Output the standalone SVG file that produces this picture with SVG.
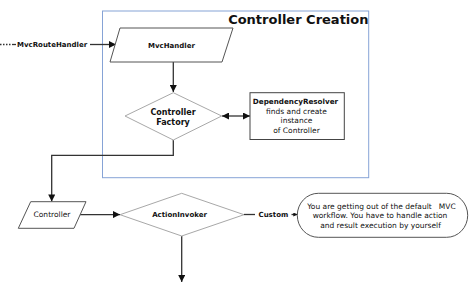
<svg xmlns="http://www.w3.org/2000/svg" width="474" height="283" viewBox="0 0 474 283">
<defs>
<marker id="arr" viewBox="0 0 10 10" refX="10" refY="5" markerWidth="8" markerHeight="7" markerUnits="userSpaceOnUse" orient="auto-start-reverse">
<path d="M0,0 L10,5 L0,10 z" fill="#111"/>
</marker>
<marker id="arrs" viewBox="0 0 10 10" refX="10" refY="5" markerWidth="4" markerHeight="4" markerUnits="userSpaceOnUse" orient="auto">
<path d="M0,0 L10,5 L0,10 z" fill="#111"/>
</marker>
<style>
text{font-family:"DejaVu Sans","Verdana",sans-serif;fill:#111}
.b{font-weight:bold;font-size:7px}
.r{font-size:7.5px}
.c{text-anchor:middle}
.ln{fill:none;stroke:#333;stroke-width:1.3}
.dia{fill:#fff;stroke:#a8a8a8;stroke-width:1}
.par{fill:#fff;stroke:#555;stroke-width:1}
</style>
</defs>
<rect width="474" height="283" fill="#fff"/>

<g id="container">
<rect x="102.5" y="11" width="266.2" height="166.7" fill="none" stroke="#86a3d6" stroke-width="1"/>
<text x="368.5" y="24.3" style="font-weight:bold;font-size:13px;text-anchor:end">Controller Creation</text>
</g>

<g id="connectors">
<path class="ln" d="M0,44.5 H12" stroke-dasharray="1.5,1.5"/>
<path class="ln" d="M12,44.5 H16"/>
<path class="ln" d="M90,44.5 H116" marker-end="url(#arr)"/>
<path class="ln" d="M173.3,62 V92" marker-end="url(#arr)"/>
<path class="ln" d="M222,116 H250" marker-start="url(#arr)" marker-end="url(#arr)"/>
<path class="ln" d="M173.3,140 V155.3 H51.7 V201.5" marker-end="url(#arr)"/>
<path class="ln" d="M80,214.6 H120" marker-end="url(#arr)"/>
<path class="ln" d="M244,214.5 H255"/>
<path class="ln" d="M291.5,214.5 H297.3" marker-end="url(#arrs)"/>
<path class="ln" d="M181.7,236 V282" marker-end="url(#arr)"/>
</g>

<g id="mvcroutehandler">
<text class="b" x="17" y="47">MvcRouteHandler</text>
</g>

<g id="mvchandler">
<polygon class="par" points="120,28 233,28 222,62 110,62"/>
<text class="b c" x="171.5" y="47.5">MvcHandler</text>
</g>

<g id="controllerfactory">
<polygon class="dia" points="125,116 173.3,92.7 221.7,116 173.3,140"/>
<text class="c" x="173" y="114.6" style="font-weight:bold;font-size:8px">Controller</text>
<text class="c" x="173" y="124.6" style="font-weight:bold;font-size:8px">Factory</text>
</g>

<g id="dependencyresolver">
<rect x="250" y="92.7" width="94.3" height="46.8" fill="#fff" stroke="#444" stroke-width="1"/>
<text class="b c" x="295.5" y="104.3" style="font-size:7.2px">DependencyResolver</text>
<text class="r c" x="296.5" y="113.7">finds and create</text>
<text class="r c" x="296.5" y="123">instance</text>
<text class="r c" x="296.5" y="132.6">of Controller</text>
</g>

<g id="controller">
<polygon class="par" points="30.7,201.7 86,201.7 74,228.3 18.3,228.3"/>
<text class="r c" x="52" y="216.8">Controller</text>
</g>

<g id="actioninvoker">
<polygon class="dia" points="120,214.7 181.7,193.3 244,214.7 181.7,236"/>
<text class="b c" x="179.5" y="217">ActionInvoker</text>
</g>

<g id="custom">
<text class="b" x="258.5" y="217">Custom</text>
</g>

<g id="note">
<rect x="297.3" y="193.3" width="170.4" height="44" rx="21" ry="22" fill="#fff" stroke="#555" stroke-width="1"/>
<text class="r c" x="381.5" y="208.6" style="white-space:pre">You are getting out of the default   MVC</text>
<text class="r c" x="380" y="218">workflow. You have to handle action</text>
<text class="r c" x="380.5" y="227.5">and result execution by yourself</text>
</g>
</svg>
